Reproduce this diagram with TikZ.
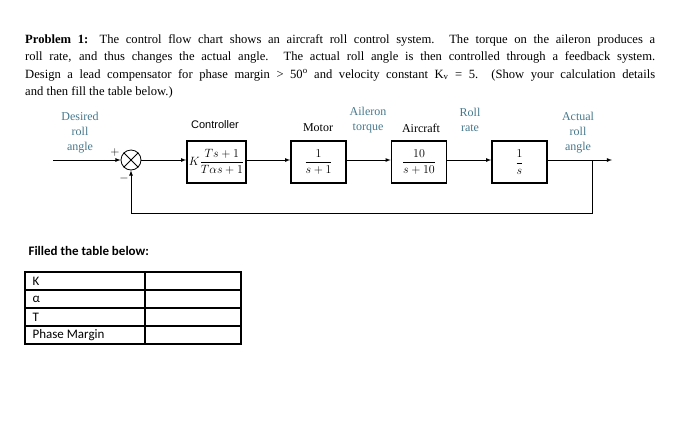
\documentclass[tikz,border=0pt]{standalone}
\usepackage{amsmath}
\usepackage{fontspec}
\setmainfont{Liberation Serif}
\newfontfamily\calib{Carlito}
\newfontfamily\arialf{Liberation Sans}
\usetikzlibrary{positioning,arrows}
\definecolor{labelteal}{RGB}{70,120,140}
\newcommand{\fullline}[1]{\makebox[630pt][s]{#1}}
\begin{document}
\begin{tikzpicture}[
	%	style def
    x=1pt, y=-1pt,
    block/.style={draw, line width=1.6pt, minimum width=55pt, minimum height=42pt, inner sep=0pt, font=\fontsize{13}{15}\selectfont},
    signal/.style={-latex, line width=0.8pt},
    wire/.style={line width=0.8pt},
    teal label/.style={color=labelteal, align=center, font=\fontsize{12}{15}\selectfont},
    every node/.style={color=black}
    ]
	\useasboundingbox (0,0) rectangle (700,440);
	% problem text
	\node[anchor=north west, align=left, inner sep=0pt, font=\fontsize{12.6}{17.5}\selectfont] (problem) at (25,34)
	{\fullline{\textbf{Problem 1:} The control flow chart shows an aircraft roll control system. The torque on the aileron produces a}\\
	 \fullline{roll rate, and thus changes the actual angle. The actual roll angle is then controlled through a feedback system.}\\
	 \fullline{Design a lead compensator for phase margin > 50\textsuperscript{o} and velocity constant K\textsubscript{v} = 5.\ \ (Show your calculation details}\\
	 and then fill the table below.)};
	
	% blocks
	\node[draw, circle, line width=0.8pt, minimum size=20pt, inner sep=0pt] (sum) at (131,160) {};
	\draw[wire] (sum.north west) -- (sum.south east) (sum.north east) -- (sum.south west);
	\node[block, minimum width=59pt] (ctrl) at (216.5,162) {};
	\node[font=\fontsize{13}{15}\selectfont, inner sep=0pt] at (ctrl.center) {$K\dfrac{Ts+1}{T\alpha s+1}$};
	\node[block] (motor) at (318.5,162) {$\dfrac{1}{s+1}$};
	\node[block] (plane) at (419,162) {$\dfrac{10}{s+10}$};
	\node[block] (integ) at (519.5,162) {$\dfrac{1}{s}$};
	\coordinate (in) at (53,160);
	\coordinate (out) at (612,160);
	\coordinate (tap) at (592,160);
	
	% connections
	\draw[signal] (in) -- (sum);
	\draw[signal] (sum) -- (sum -| ctrl.west);
	\draw[signal] (sum -| ctrl.east) -- (sum -| motor.west);
	\draw[signal] (sum -| motor.east) -- (sum -| plane.west);
	\draw[signal] (sum -| plane.east) -- (sum -| integ.west);
	\draw[signal] (sum -| integ.east) -- (out);
	\draw[signal] (tap) -- (592,213) -- (131,213) -- (sum.south);
	
	% labels
	\node[teal label] (desired) at (80,133) {Desired\\roll\\angle};
	\node[font=\fontsize{12}{14}\selectfont] at (115,152) {$+$};
	\node[font=\fontsize{12}{14}\selectfont] at (124,178) {$-$};
	\node[font=\arialf\fontsize{11}{13}\selectfont] at (215,125) {Controller};
	\node[font=\fontsize{12}{15}\selectfont] at (318,128) {Motor};
	\node[teal label] at (368,120) {Aileron\\torque};
	\node[font=\fontsize{12}{15}\selectfont] at (421,128) {Aircraft};
	\node[teal label] at (470,120) {Roll\\rate};
	\node[teal label] (actual) at (578,133) {Actual\\roll\\angle};
	
	% table
	\node[anchor=west, font=\calib\bfseries\fontsize{13}{15}\selectfont] (fill) at (25,251) {Filled the table below:};
	\draw[line width=1.2pt] (25,272) rectangle (241,344);
	\foreach \y in {290,308,326} \draw[line width=1.2pt] (25,\y) -- (241,\y);
	\draw[line width=1.2pt] (145,272) -- (145,344);
	\foreach \txt [count=\i] in {K,α,T,Phase Margin}
	  \node[anchor=west, font=\calib\fontsize{13}{15}\selectfont] at (29,263+18*\i) {\txt};
\end{tikzpicture}
\end{document}
